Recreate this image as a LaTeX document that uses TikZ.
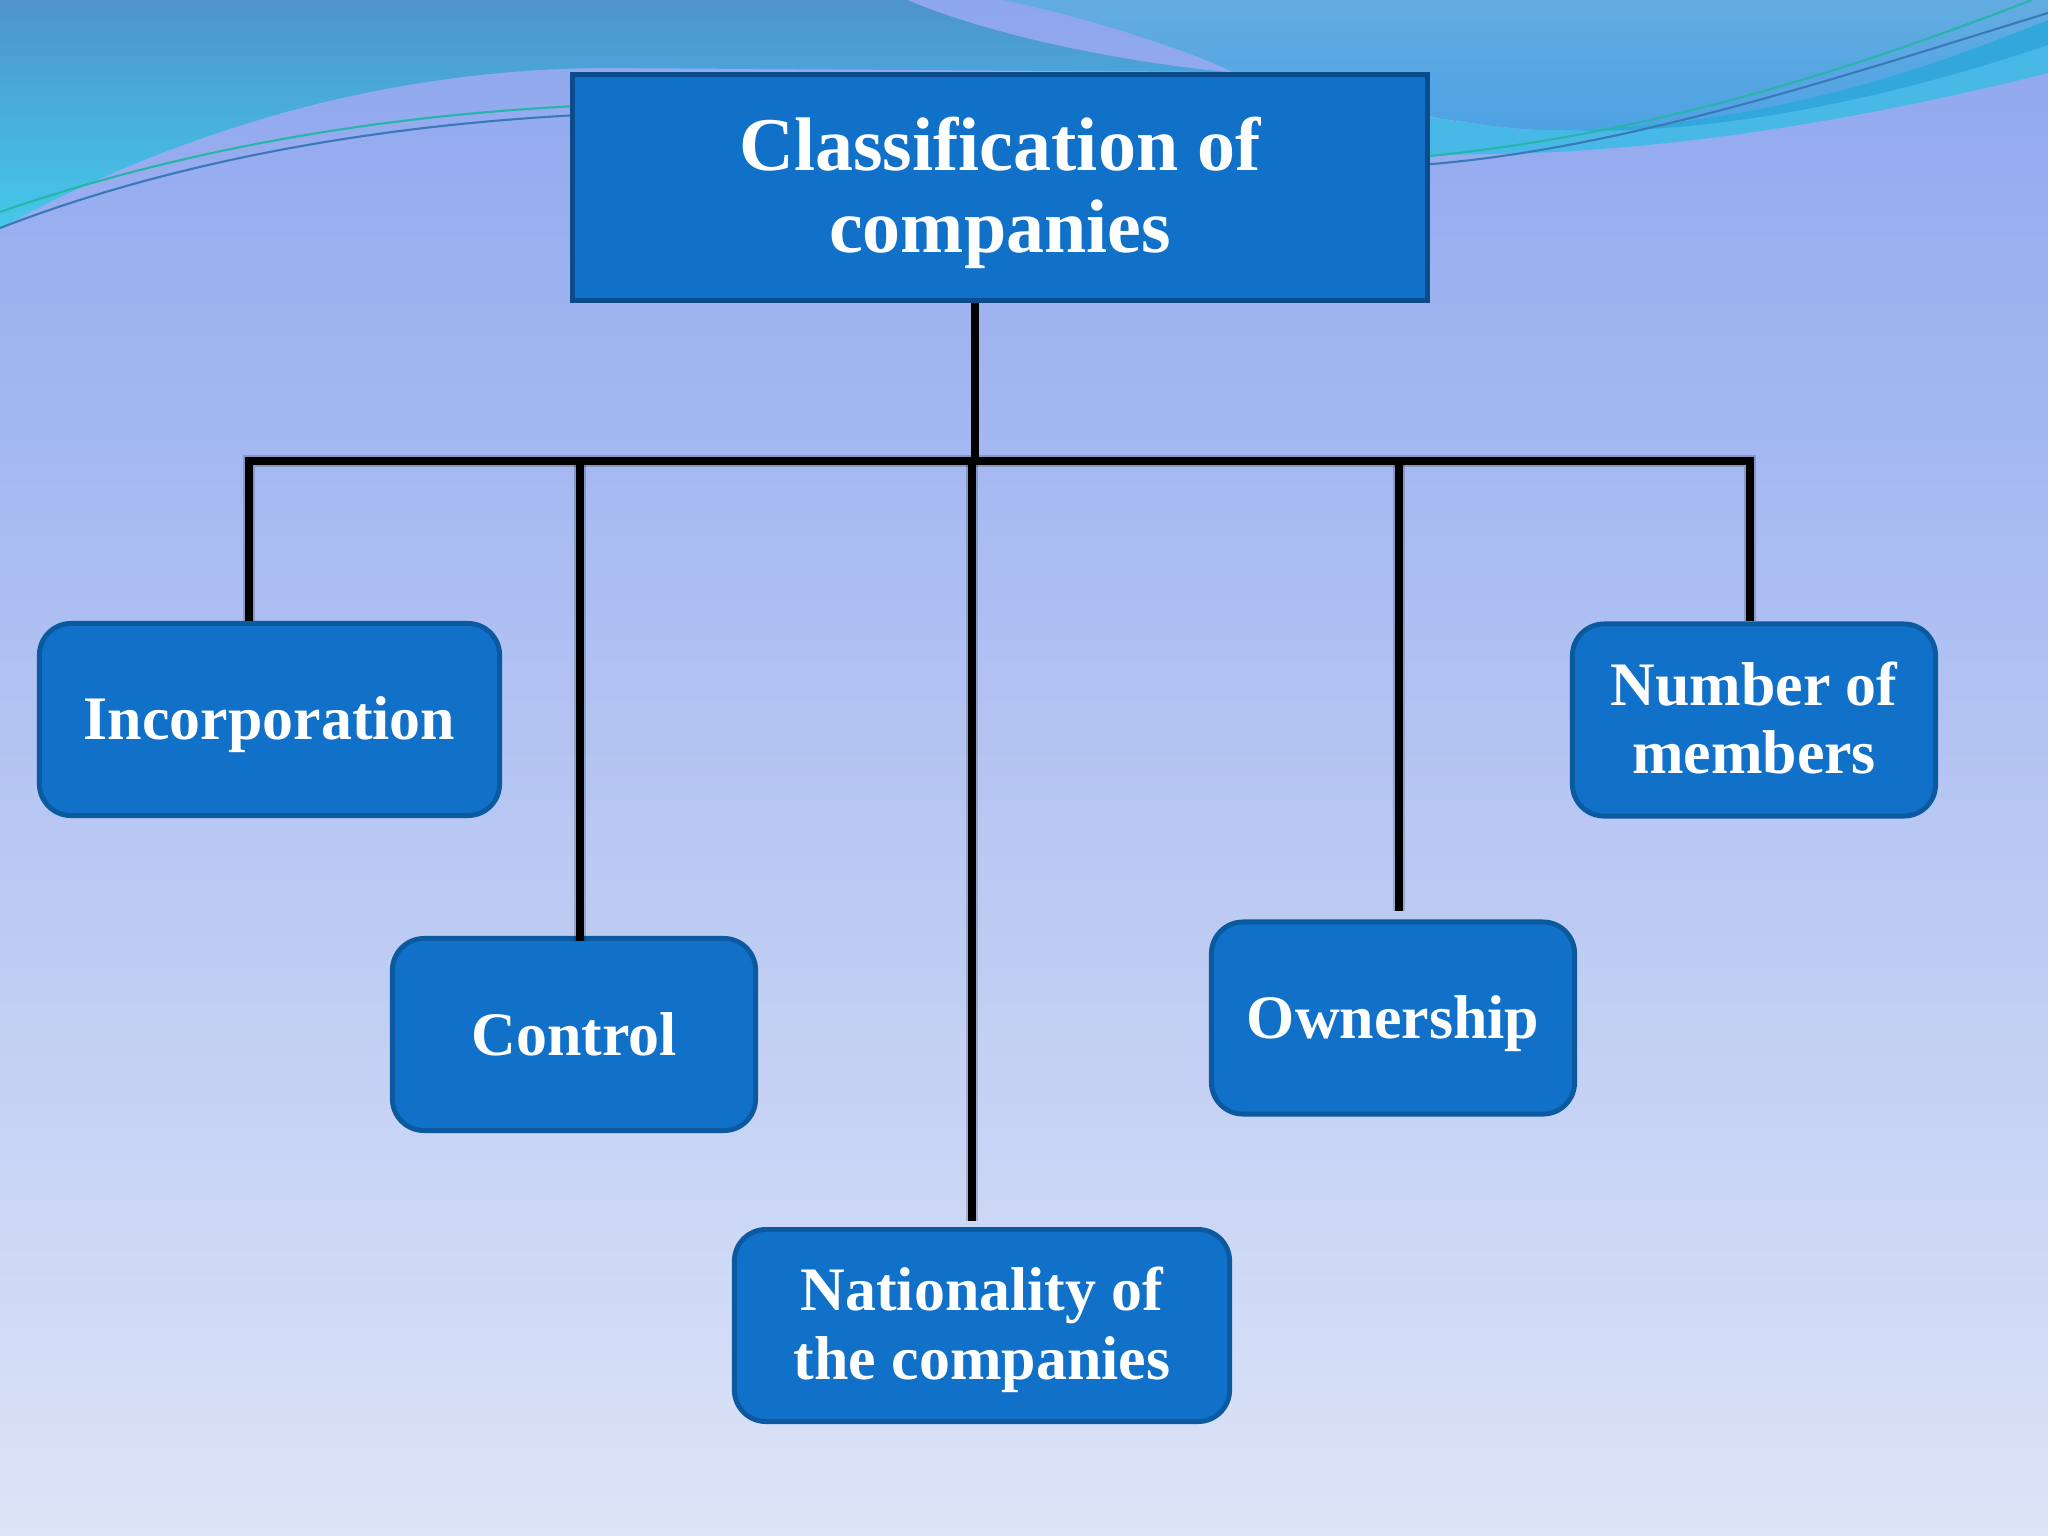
\documentclass[tikz,border=0pt]{standalone}
\usepackage{fontspec}
\newfontfamily\lserif{Liberation Serif}
\usetikzlibrary{calc}
\definecolor{bgtop}{HTML}{8EA6EE}
\definecolor{bgbot}{HTML}{DCE4F7}
\definecolor{leftA}{HTML}{4E93CF}
\definecolor{leftB}{HTML}{44C8EA}
\definecolor{rightA}{HTML}{63ACE1}
\definecolor{rightB}{HTML}{4EA2E4}
\definecolor{cyanband}{HTML}{48B9E6}
\definecolor{cyandark}{HTML}{31A7DC}
\definecolor{lineA}{HTML}{28B4A8}
\definecolor{lineB}{HTML}{3A78B8}
\definecolor{boxfill}{HTML}{1170C8}
\definecolor{boxline}{HTML}{0B5AA0}
\definecolor{titleline}{HTML}{0A4C8C}
\tikzset{
  cbox/.style={draw=boxline, fill=boxfill, line width=1.4pt, rounded corners=9pt,
    minimum height=1.92cm, inner sep=0pt},
  tbox/.style={draw=titleline, fill=boxfill, line width=1.4pt,
    minimum width=8.55cm, minimum height=2.26cm, inner sep=0pt},
  lbl/.style={text=white, font=\lserif\bfseries\fontsize{17.6pt}{19.6pt}\selectfont,
    inner sep=0pt, anchor=base},
  tlbl/.style={text=white, font=\lserif\bfseries\fontsize{21.6pt}{23.3pt}\selectfont,
    inner sep=0pt, anchor=base},
  conn/.style={line width=2.1pt, black, line join=miter},
  connshadow/.style={line width=3.2pt, black, opacity=0.18},
  thin/.style={line width=0.6pt},
}
\begin{document}
\begin{tikzpicture}[x=0.01cm, y=-0.01cm]
\useasboundingbox (0,0) rectangle (2048,1536);
% background
\shade[top color=bgtop, bottom color=bgbot] (0,0) rectangle (2048,1536);
% left dark region
\shade[top color=leftA, bottom color=leftB]
  (0,0) -- (907,0) .. controls (990,35) and (1120,62) .. (1228,72)
  -- (600,68) .. controls (400,70) and (200,120) .. (0,228) -- cycle;
% right light region
\shade[top color=rightA, bottom color=rightB]
  (1003,0) -- (2048,0) -- (2048,20) .. controls (1900,80) and (1750,125) .. (1565,130)
  .. controls (1530,131) and (1500,128) .. (1431,117)
  .. controls (1350,104) and (1270,85) .. (1232,72)
  .. controls (1200,55) and (1100,20) .. (1003,0) -- cycle;
% cyan band
\fill[cyanband]
  (1420,116) .. controls (1500,128) and (1530,131) .. (1565,130)
  .. controls (1750,125) and (1900,80) .. (2048,20) -- (2048,73)
  .. controls (1900,110) and (1700,150) .. (1500,154) -- (1420,155) -- cycle;
\fill[cyandark]
  (1565,130) .. controls (1750,125) and (1900,80) .. (2048,20) -- (2048,45)
  .. controls (1900,95) and (1720,136) .. (1565,130) -- cycle;
% thin lines
\draw[thin, lineA] (0,212) .. controls (150,160) and (350,115) .. (600,105);
\draw[thin, lineB] (0,228) .. controls (150,170) and (350,125) .. (600,114);
\draw[thin, lineA] (1420,157) .. controls (1650,135) and (1850,70) .. (2032,0);
\draw[thin, lineB] (1420,165) .. controls (1620,150) and (1830,80) .. (2048,13);

% boxes
\node[tbox] (title) at (1000,187.5) {};
\node[tlbl] (titleL1) at (1000,170) {Classification of};
\node[tlbl] (titleL2) at (1000,252) {companies};

\node[cbox, minimum width=4.60cm] (inc) at (269.5,719.5) {};
\node[lbl] (incT) at (269.5,739) {Incorporation};

\node[cbox, minimum width=3.63cm] (ctl) at (574,1034.5) {};
\node[lbl] (ctlT) at (574,1055) {Control};

\node[cbox, minimum width=4.95cm] (nat) at (982,1325.5) {};
\node[lbl] (natT1) at (982,1310) {Nationality of};
\node[lbl] (natT2) at (982,1379) {the companies};

\node[cbox, minimum width=3.63cm] (own) at (1393,1018) {};
\node[lbl] (ownT) at (1393,1038) {Ownership};

\node[cbox, minimum width=3.63cm] (num) at (1754,720) {};
\node[lbl] (numT1) at (1754,705) {Number of};
\node[lbl] (numT2) at (1754,773) {members};

% connectors
\coordinate (jt) at (975,461);
\coordinate (bl) at (249,461);
\coordinate (br) at (1750,461);
\coordinate (d2) at (580,461);
\coordinate (d3) at (972,461);
\coordinate (d4) at (1399,461);

\begin{scope}[shift={(0,6)}]
  \draw[connshadow] (inc.north -| bl) -- (bl) -- (br) -- (num.north -| br);
  \draw[connshadow] (d2) -- ($(ctl.north -| d2)+(0,5)$);
  \draw[connshadow] (d3) -- ($(nat.north -| d3)+(0,-6)$);
  \draw[connshadow] (d4) -- ($(own.north -| d4)+(0,-8)$);
\end{scope}

\draw[conn] (title.south -| jt) -- (jt);
\draw[conn] (inc.north -| bl) -- (bl) -- (br) -- (num.north -| br);
\draw[conn] (d2) -- ($(ctl.north -| d2)+(0,5)$);
\draw[conn] (d3) -- ($(nat.north -| d3)+(0,-6)$);
\draw[conn] (d4) -- ($(own.north -| d4)+(0,-8)$);
\end{tikzpicture}
\end{document}
